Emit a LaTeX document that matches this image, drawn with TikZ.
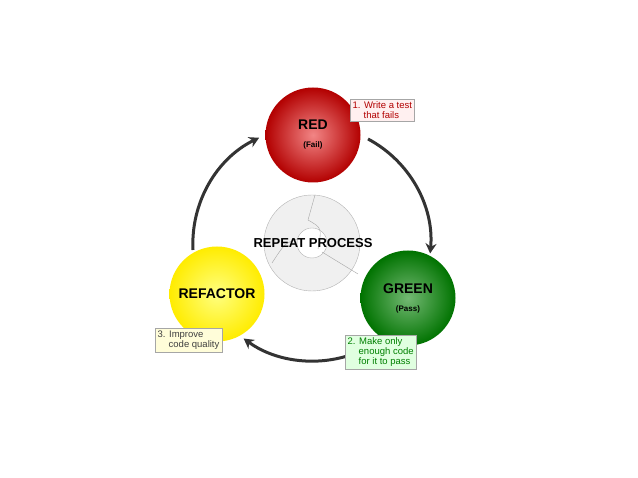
\documentclass[tikz,border=0pt]{standalone}
\usepackage{fontspec}
\setmainfont{Liberation Sans}
\usetikzlibrary{arrows.meta}
\begin{document}
\begin{tikzpicture}[x=1pt,y=1pt,
  ball/.style={circle,minimum size=95pt,inner sep=0pt,align=center,font=\bfseries\fontsize{14}{15}\selectfont},
  note/.style={draw=gray!70,rectangle,align=left,inner sep=2.5pt,font=\fontsize{9.5}{10}\selectfont},
  flow/.style={line width=3pt,draw=black!80,-{Stealth[length=10pt,width=11pt]}}]
\useasboundingbox (0,0) rectangle (638,478);
\fill[white] (0,0) rectangle (638,478);
% center disc
\node[circle,minimum size=96pt,draw=gray!60,fill=gray!12,inner sep=0pt] (disc) at (312,235) {};
\node[circle,minimum size=30pt,draw=gray!60,fill=white,inner sep=0pt] (hole) at (312,235) {};
\draw[gray!70,thin] (318,229) .. controls (322,250) .. (308,258) -- (315,283);
\draw[gray!70,thin] (300,240) .. controls (285,235) .. (272,215);
\draw[gray!70,thin] (322,226) .. controls (340,215) .. (358,204);
\node[font=\bfseries\fontsize{13}{14}\selectfont] (rp) at (313,235) {REPEAT PROCESS};
% balls
\node[ball,inner color=red!45!white!95!black,outer color=red!70!black,text=black] (red) at (313,343) {RED\\[3pt]{\fontsize{8}{9}\selectfont (Fail)}};
\node[ball,inner color=green!50!black!55!white,outer color=green!45!black,text=black] (green) at (408,180) {GREEN\\[3pt]{\fontsize{8}{9}\selectfont (Pass)}};
\node[ball,inner color=yellow!50!white,outer color=yellow!85!orange,text=black] (ref) at (217,184) {REFACTOR};
% arrows
\draw[flow] (193,228) arc[start angle=183,end angle=116,radius=118];
\draw[flow] (368,339) arc[start angle=62,end angle=-5,radius=118];
\draw[flow] (345.5,121.5) arc[start angle=-74,end angle=-126,radius=118];
% notes
\node[note,fill=red!6,text=red!70!black,anchor=north west] (n1) at (350,379) {1. Write a test\\\hspace{11pt}that fails};
\node[note,fill=green!12,text=green!50!black,anchor=north west] (n2) at (345,143) {2. Make only\\\hspace{11pt}enough code\\\hspace{11pt}for it to pass};
\node[note,fill=yellow!15,text=black!75,anchor=north west] (n3) at (155,150) {3. Improve\\\hspace{11pt}code quality};
\end{tikzpicture}
\end{document}
